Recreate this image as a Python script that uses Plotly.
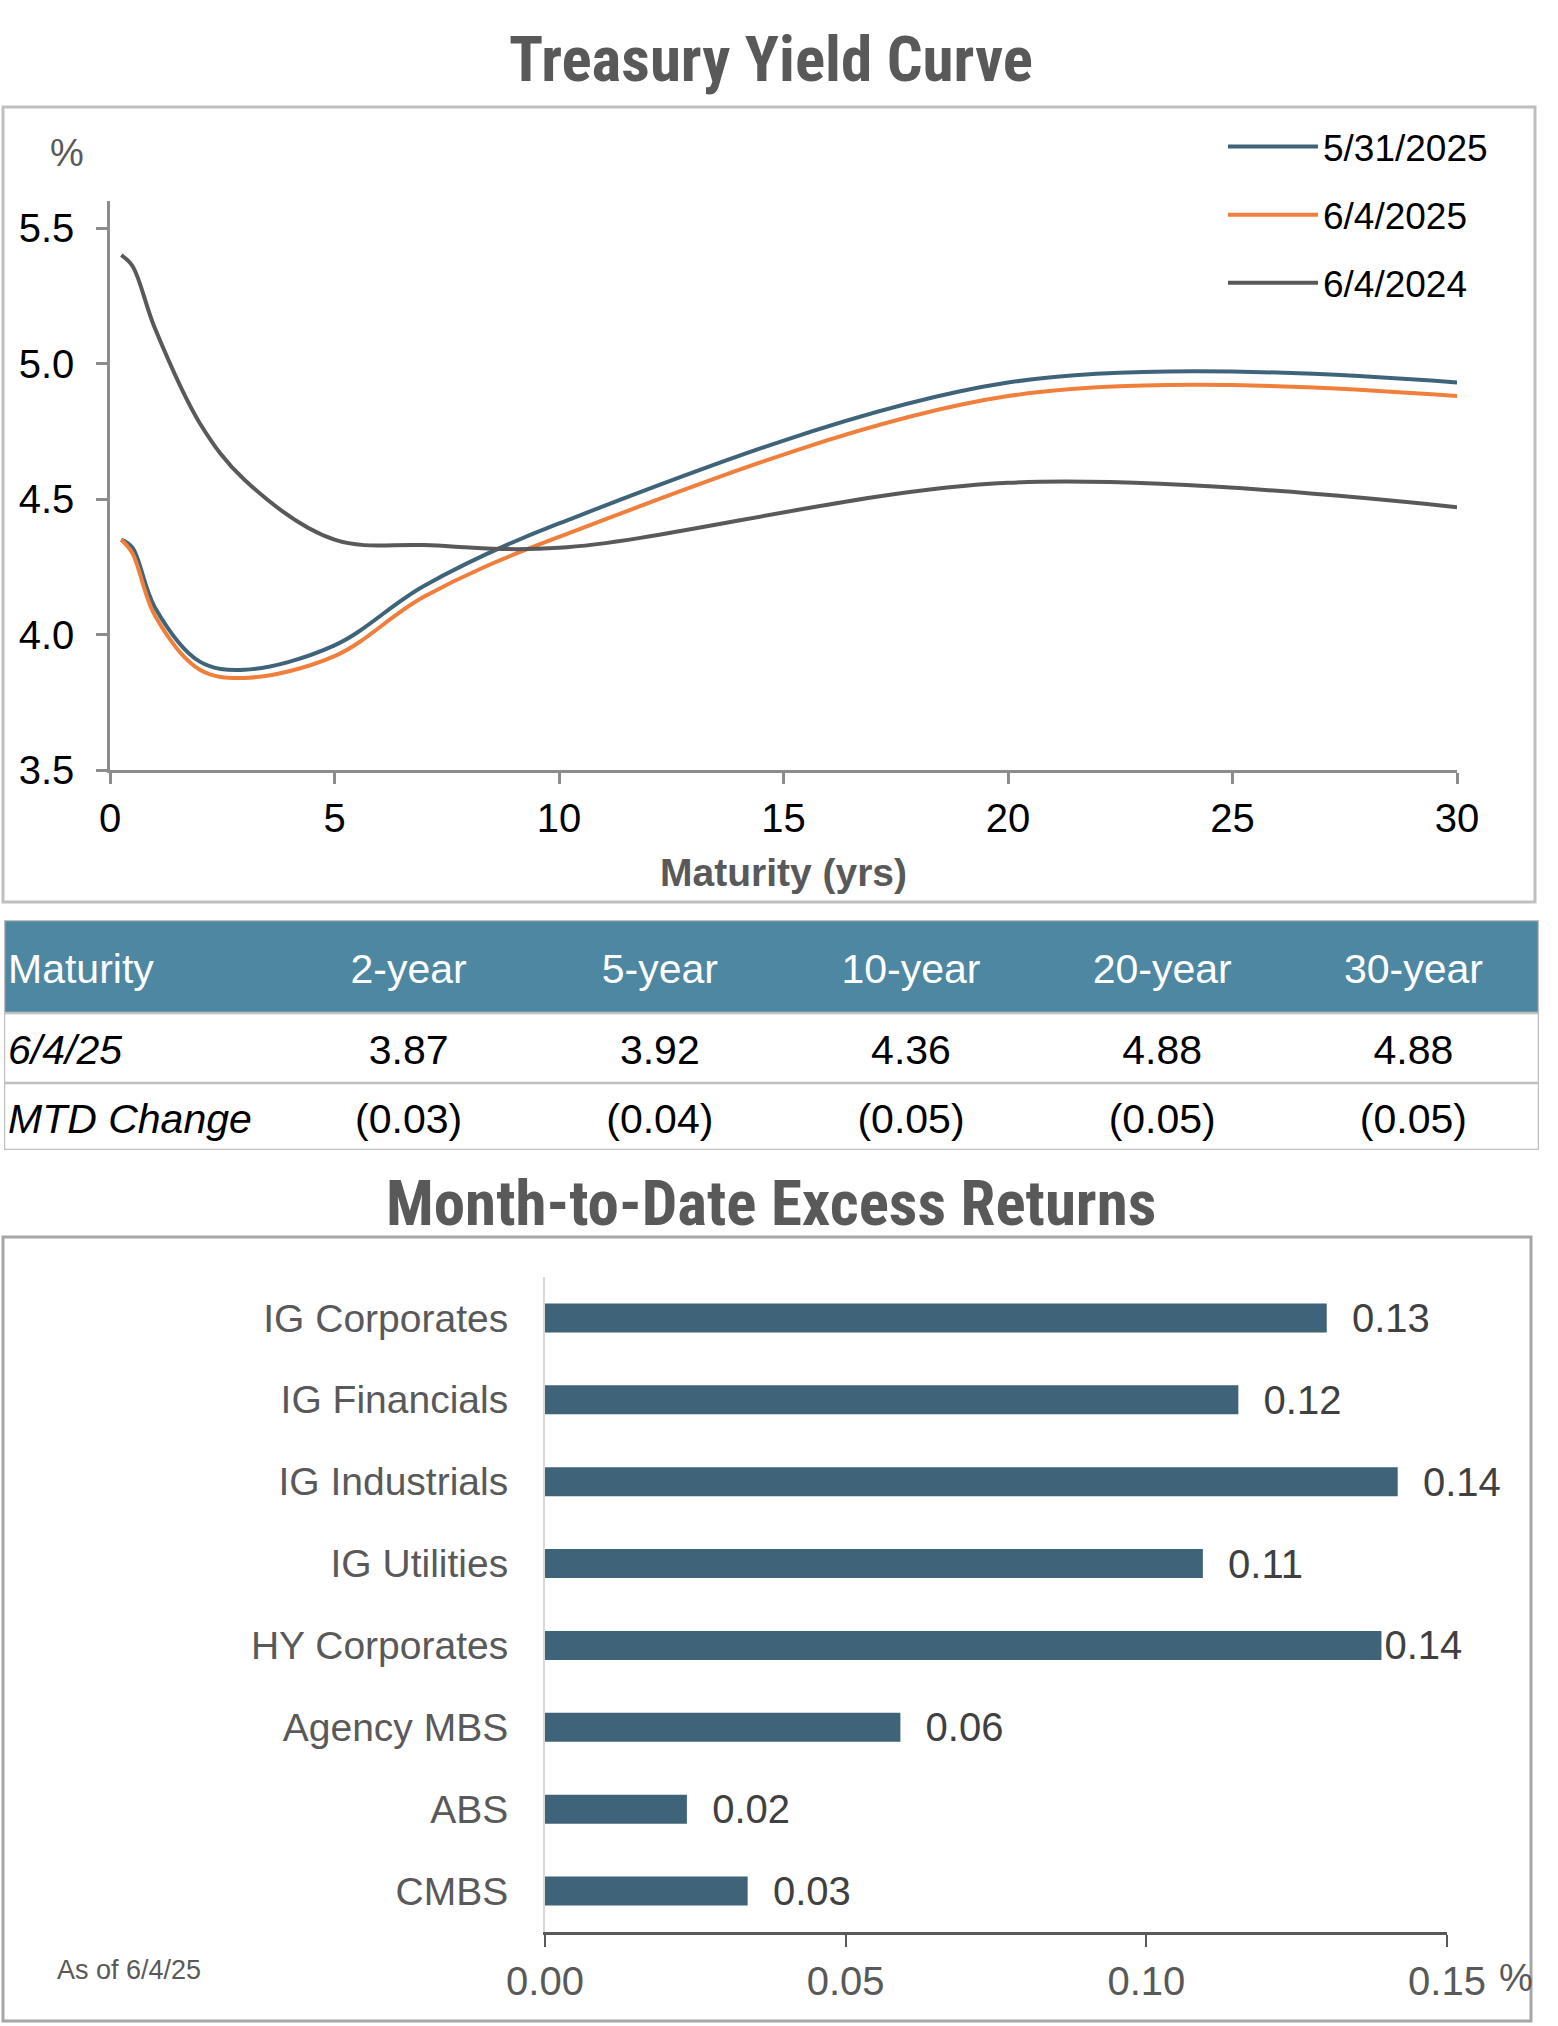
import plotly.graph_objects as go

W, H = 1558, 2026

# ---------------- data ----------------
maturities = [0.25, 0.5, 1, 2, 3, 5, 7, 10, 20, 30]
yield_0531_2025 = [4.35, 4.32, 4.10, 3.90, 3.87, 3.96, 4.18, 4.41, 4.93, 4.93]
yield_0604_2025 = [4.35, 4.30, 4.07, 3.87, 3.84, 3.92, 4.14, 4.36, 4.88, 4.88]
yield_0604_2024 = [5.40, 5.36, 5.13, 4.78, 4.57, 4.35, 4.33, 4.32, 4.56, 4.47]
series_names = ["5/31/2025", "6/4/2025", "6/4/2024"]
series_colors = ["#3F6479", "#F07F3C", "#595959"]

x_ticks = [0, 5, 10, 15, 20, 25, 30]
y_ticks = [3.5, 4.0, 4.5, 5.0, 5.5]

table_header = ["Maturity", "2-year", "5-year", "10-year", "20-year", "30-year"]
row_labels = ["6/4/25", "MTD Change"]
table_yields = ["3.87", "3.92", "4.36", "4.88", "4.88"]
table_changes = ["(0.03)", "(0.04)", "(0.05)", "(0.05)", "(0.05)"]

sectors = ["IG Corporates", "IG Financials", "IG Industrials", "IG Utilities",
           "HY Corporates", "Agency MBS", "ABS", "CMBS"]
excess_returns = [0.130, 0.1153, 0.1418, 0.1094, 0.1391, 0.0591, 0.0236, 0.0337]
bar_ticks = [0.0, 0.05, 0.10, 0.15]


def px(x):
    return x / W


def py(y):
    return 1 - y / H


REG = "Liberation Sans, Arial, sans-serif"
NARROW = ("Liberation Sans Narrow, Arial Narrow, Roboto Condensed, "
          "DejaVu Sans Condensed, sans-serif")
GREY = "#595959"
NB = "\u00a0"

fig = go.Figure()

# ---------------- yield curve ----------------
for name, ys, col in zip(series_names, [yield_0531_2025, yield_0604_2025, yield_0604_2024], series_colors):
    fig.add_trace(go.Scatter(
        x=maturities, y=ys, name=name, mode="lines",
        line=dict(color=col, width=4, shape="spline", smoothing=1.0),
        xaxis="x", yaxis="y", legendgroup=name,
    ))

# ---------------- table (text placed on its own hidden axes) ----------------
TBL_L, TBL_R, TBL_T, TBL_B = 4, 1539, 920, 1150
first_col_w = 279
other_col_w = (TBL_R - TBL_L - first_col_w) / 5
row_heights = [93, 70, 67]
row_tops = [0, 93, 163]
row_text_y = [53, 134, 202.5]          # text centre within each row (from table top)
col_centres = [first_col_w + other_col_w * (i + 0.5) for i in range(5)]

FONT_TBL = 41
# first column (left aligned)
fig.add_trace(go.Scatter(
    x=[4, 4, 4], y=row_text_y, mode="text",
    text=[table_header[0], "<i>" + row_labels[0] + "</i>", "<i>" + row_labels[1] + "</i>"],
    textposition="middle right",
    textfont=dict(family=REG, size=FONT_TBL, color=["white", "black", "black"]),
    xaxis="x3", yaxis="y3", showlegend=False, hoverinfo="skip",
))
# header row
fig.add_trace(go.Scatter(
    x=col_centres, y=[row_text_y[0]] * 5, mode="text", text=table_header[1:],
    textposition="middle center", textfont=dict(family=REG, size=FONT_TBL, color="white"),
    xaxis="x3", yaxis="y3", showlegend=False, hoverinfo="skip",
))
# yields row
fig.add_trace(go.Scatter(
    x=col_centres, y=[row_text_y[1]] * 5, mode="text", text=table_yields,
    textposition="middle center", textfont=dict(family=REG, size=FONT_TBL, color="black"),
    xaxis="x3", yaxis="y3", showlegend=False, hoverinfo="skip",
))
# MTD change row
fig.add_trace(go.Scatter(
    x=col_centres, y=[row_text_y[2]] * 5, mode="text", text=table_changes,
    textposition="middle center", textfont=dict(family=REG, size=FONT_TBL, color="black"),
    xaxis="x3", yaxis="y3", showlegend=False, hoverinfo="skip",
))

# ---------------- bar chart ----------------
bar_text = [("" if s == "HY Corporates" else NB * 2) + f"{v:.2f}" for s, v in zip(sectors, excess_returns)]
fig.add_trace(go.Bar(
    y=sectors, x=excess_returns, orientation="h",
    marker=dict(color="#3F6479", line=dict(width=0)),
    text=bar_text, textposition="outside", constraintext="none", cliponaxis=False,
    textfont=dict(family=REG, size=40, color="#404040"),
    xaxis="x2", yaxis="y2", showlegend=False, hoverinfo="skip",
))

shapes = [
    # chart boxes
    dict(type="rect", xref="paper", yref="paper", x0=px(3), x1=px(1535), y0=py(902), y1=py(107),
         line=dict(color="#BFBFBF", width=3), layer="below"),
    dict(type="rect", xref="paper", yref="paper", x0=px(3), x1=px(1531), y0=py(2021), y1=py(1237),
         line=dict(color="#A6A6A6", width=3), layer="below"),
    # table header fill
    dict(type="rect", xref="x3", yref="y3", x0=0, x1=TBL_R - TBL_L, y0=0, y1=row_heights[0],
         fillcolor="#4E87A1", line=dict(width=0), layer="below"),
    # table outer border
    dict(type="rect", xref="x3", yref="y3", x0=0, x1=TBL_R - TBL_L, y0=0, y1=TBL_B - TBL_T,
         line=dict(color="#BFBFBF", width=2.5), layer="below"),
]
for yy in row_tops[1:]:
    shapes.append(dict(type="line", xref="x3", yref="y3", x0=0, x1=TBL_R - TBL_L, y0=yy, y1=yy,
                       line=dict(color="#BFBFBF", width=2.5), layer="below"))

annotations = [
    dict(text="<b>Treasury Yield Curve</b>", x=px(771), y=py(60), xref="paper", yref="paper",
         showarrow=False, xanchor="center", yanchor="middle",
         font=dict(family=NARROW, size=63, color=GREY)),
    dict(text="<b>Month-to-Date Excess Returns</b>", x=px(771), y=py(1203), xref="paper", yref="paper",
         showarrow=False, xanchor="center", yanchor="middle",
         font=dict(family=NARROW, size=63, color=GREY)),
    dict(text="%", x=px(67), y=py(153), xref="paper", yref="paper", showarrow=False,
         xanchor="center", yanchor="middle", font=dict(family=REG, size=38, color=GREY)),
    dict(text="%", x=px(1497), y=py(1978), xref="paper", yref="paper", showarrow=False,
         xanchor="left", yanchor="middle", font=dict(family=REG, size=38, color=GREY)),
    dict(text="As of 6/4/25", x=px(55), y=py(1970), xref="paper", yref="paper", showarrow=False,
         xanchor="left", yanchor="middle", font=dict(family=REG, size=27, color=GREY)),
]

hidden = dict(visible=False, showgrid=False, zeroline=False, fixedrange=True, automargin=False)

fig.update_layout(
    width=W, height=H, margin=dict(l=0, r=0, t=0, b=0, autoexpand=False),
    paper_bgcolor="white", plot_bgcolor="rgba(0,0,0,0)",
    font=dict(family=REG),
    showlegend=True, hovermode=False,
    legend=dict(x=px(1223), y=py(116), xanchor="left", yanchor="top",
                font=dict(family=REG, size=37, color="black"),
                bgcolor="rgba(0,0,0,0)", itemwidth=90, tracegroupgap=17),
    xaxis=dict(domain=[px(110), px(1457)], range=[0, 30], tickvals=x_ticks,
               anchor="y", showgrid=False, zeroline=False, automargin=False,
               showline=True, linecolor="#8C8C8C", linewidth=2.5,
               ticks="outside", ticklen=11, tickwidth=2.5, tickcolor="#8C8C8C",
               tickfont=dict(family=REG, size=40, color="black"), ticklabelstandoff=0,
               title=dict(text="<b>Maturity (yrs)</b>", standoff=20,
                          font=dict(family=REG, size=39, color=GREY))),
    yaxis=dict(domain=[py(770), py(201)], range=[3.5, 5.6], tickvals=y_ticks, tickformat=".1f",
               anchor="x", showgrid=False, zeroline=False, automargin=False,
               showline=True, linecolor="#8C8C8C", linewidth=2.5,
               ticks="outside", ticklen=11, tickwidth=2.5, tickcolor="#8C8C8C",
               tickfont=dict(family=REG, size=40, color="black"), ticklabelstandoff=14),
    xaxis2=dict(domain=[px(545), px(1447)], range=[0, 0.15], tickvals=bar_ticks, tickformat=".2f",
                anchor="y2", showgrid=False, zeroline=False, automargin=False,
                showline=True, linecolor=GREY, linewidth=3,
                ticks="outside", ticklen=12, tickwidth=2, tickcolor=GREY,
                tickfont=dict(family=REG, size=40, color=GREY), ticklabelstandoff=0),
    yaxis2=dict(domain=[py(1932), py(1277)], categoryorder="array", categoryarray=sectors,
                autorange="reversed", anchor="x2", showgrid=False, zeroline=False, automargin=False,
                showline=True, linecolor="#D9D9D9", linewidth=2, ticks="",
                tickfont=dict(family=REG, size=39, color=GREY), ticklabelstandoff=27),
    xaxis3=dict(domain=[px(TBL_L), px(TBL_R)], range=[0, TBL_R - TBL_L], anchor="y3", **hidden),
    yaxis3=dict(domain=[py(TBL_B), py(TBL_T)], range=[TBL_B - TBL_T, 0], anchor="x3", **hidden),
    bargap=0.646,
    shapes=shapes,
    annotations=annotations,
)

fig.write_html("out.html")
